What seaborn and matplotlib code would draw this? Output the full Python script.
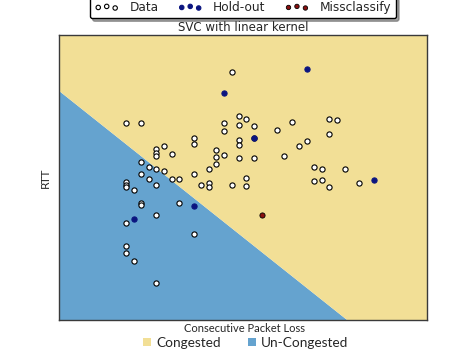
import numpy as np
import pandas as pd
import matplotlib
matplotlib.use("Agg")
import matplotlib.pyplot as plt
from matplotlib.patches import Patch
import seaborn as sns

# training points (Consecutive Packet Loss, RTT), arbitrary units 0-100
data_x = [46.9, 18.2, 22.4, 49.0, 50.9, 44.8, 49.0, 53.0, 59.2, 44.8,
          53.0, 36.8, 36.8, 49.0, 49.0, 28.5, 26.4, 26.4, 26.4, 30.6,
          42.7, 42.7, 44.8, 49.0, 53.0, 42.7, 22.4, 24.4, 26.4, 28.5,
          40.8, 22.4, 36.8, 24.4, 30.6, 32.5, 50.9, 18.2, 18.2, 18.2,
          20.3, 26.4, 38.7, 40.8, 40.8, 46.9, 50.9, 22.4, 22.4, 32.5,
          26.4, 18.2, 36.8, 18.2, 18.2, 20.3, 26.4, 63.3, 73.4, 75.5,
          73.4, 67.4, 65.2, 61.2, 69.4, 71.4, 77.6, 69.4, 71.4, 73.4,
          81.6]
data_y = [87.1, 69.2, 69.2, 71.6, 70.4, 69.0, 68.3, 68.0, 66.7, 66.4,
          64.0, 64.0, 61.9, 63.2, 61.3, 61.1, 59.9, 58.5, 57.6, 58.4,
          59.6, 57.1, 57.9, 56.7, 56.7, 54.8, 55.3, 53.6, 53.0, 52.2,
          53.0, 51.3, 51.3, 49.4, 49.4, 49.4, 49.9, 48.3, 47.4, 46.6,
          45.7, 47.3, 47.4, 48.0, 46.6, 47.4, 47.0, 41.2, 40.2, 41.2,
          36.7, 33.9, 30.2, 26.0, 23.5, 20.6, 13.1, 69.6, 70.6, 70.2,
          65.3, 62.8, 61.1, 57.4, 53.6, 52.9, 53.0, 48.9, 49.2, 46.8,
          48.0]

holdout_x = [44.8, 67.3, 53.0, 85.6, 36.8, 20.3]
holdout_y = [79.5, 88.1, 64.0, 49.0, 40.1, 35.5]

miss_x = [55.1]
miss_y = [36.8]

# linear decision function: w0*x + w1*y + b > 0 -> Congested
svc_w = [1.027, 1.0]
svc_b = -80.4

x_range = [0, 100]
y_range = [0, 100]

col_cong = "#f2df96"
col_uncong = "#65a3cf"
col_hold = "#0b1580"
col_miss = "#8a1010"


def main():
    sns.set_style("white")
    plt.rcParams['font.family'] = ['DejaVu Sans']

    fig = plt.figure(figsize=(4.74, 3.55), dpi=100)
    ax = fig.add_axes([0.1245, 0.0986, 0.7764, 0.8028])

    # decision regions
    xx, yy = np.meshgrid(np.linspace(x_range[0], x_range[1], 400),
                         np.linspace(y_range[0], y_range[1], 400))
    zz = svc_w[0] * xx + svc_w[1] * yy + svc_b
    ax.contourf(xx, yy, zz, levels=[-1e9, 0, 1e9],
                colors=[col_uncong, col_cong], antialiased=True)

    df_data = pd.DataFrame({'x': data_x, 'y': data_y})
    df_hold = pd.DataFrame({'x': holdout_x, 'y': holdout_y})
    df_miss = pd.DataFrame({'x': miss_x, 'y': miss_y})

    sns.scatterplot(data=df_data, x='x', y='y', ax=ax, s=14, color='white',
                    edgecolor='black', linewidth=0.8, label='Data', zorder=3)
    sns.scatterplot(data=df_hold, x='x', y='y', ax=ax, s=14, color=col_hold,
                    edgecolor=col_hold, linewidth=0.8, label='Hold-out', zorder=4)
    sns.scatterplot(data=df_miss, x='x', y='y', ax=ax, s=14, color=col_miss,
                    edgecolor='black', linewidth=0.6, label='Missclassify', zorder=4)

    ax.set_xlim(x_range)
    ax.set_ylim(y_range)
    ax.set_xticks([])
    ax.set_yticks([])
    ax.set_xlabel('')
    ax.set_ylabel('RTT', fontsize=8, labelpad=6)
    ax.set_title('SVC with linear kernel', fontsize=8.5, pad=3)
    for sp in ax.spines.values():
        sp.set_color('#3a3a3a')
        sp.set_linewidth(1.0)

    ax.legend(loc='lower center', bbox_to_anchor=(0.5, 1.058), ncol=3,
              scatterpoints=3, fontsize=8.7, frameon=True, fancybox=True,
              shadow=True, borderaxespad=0, handletextpad=0.9,
              columnspacing=1.6, markerscale=0.85, edgecolor='black')

    fig.text(0.515, 0.076, 'Consecutive Packet Loss', ha='center', va='center',
             fontsize=8, family=['Lato', 'DejaVu Sans'])

    handles = [Patch(facecolor=col_cong, edgecolor='none', label='Congested'),
               Patch(facecolor=col_uncong, edgecolor='none', label='Un-Congested')]
    fig.legend(handles=handles, loc='center', bbox_to_anchor=(0.518, 0.034),
               ncol=2, frameon=False, handlelength=0.6, handleheight=0.6,
               handletextpad=0.35, columnspacing=2.0,
               prop={'family': ['Lato', 'DejaVu Sans'], 'size': 9.8})

    fig.savefig('out.png', dpi=100)
    plt.close(fig)


if __name__ == "__main__":
    main()
